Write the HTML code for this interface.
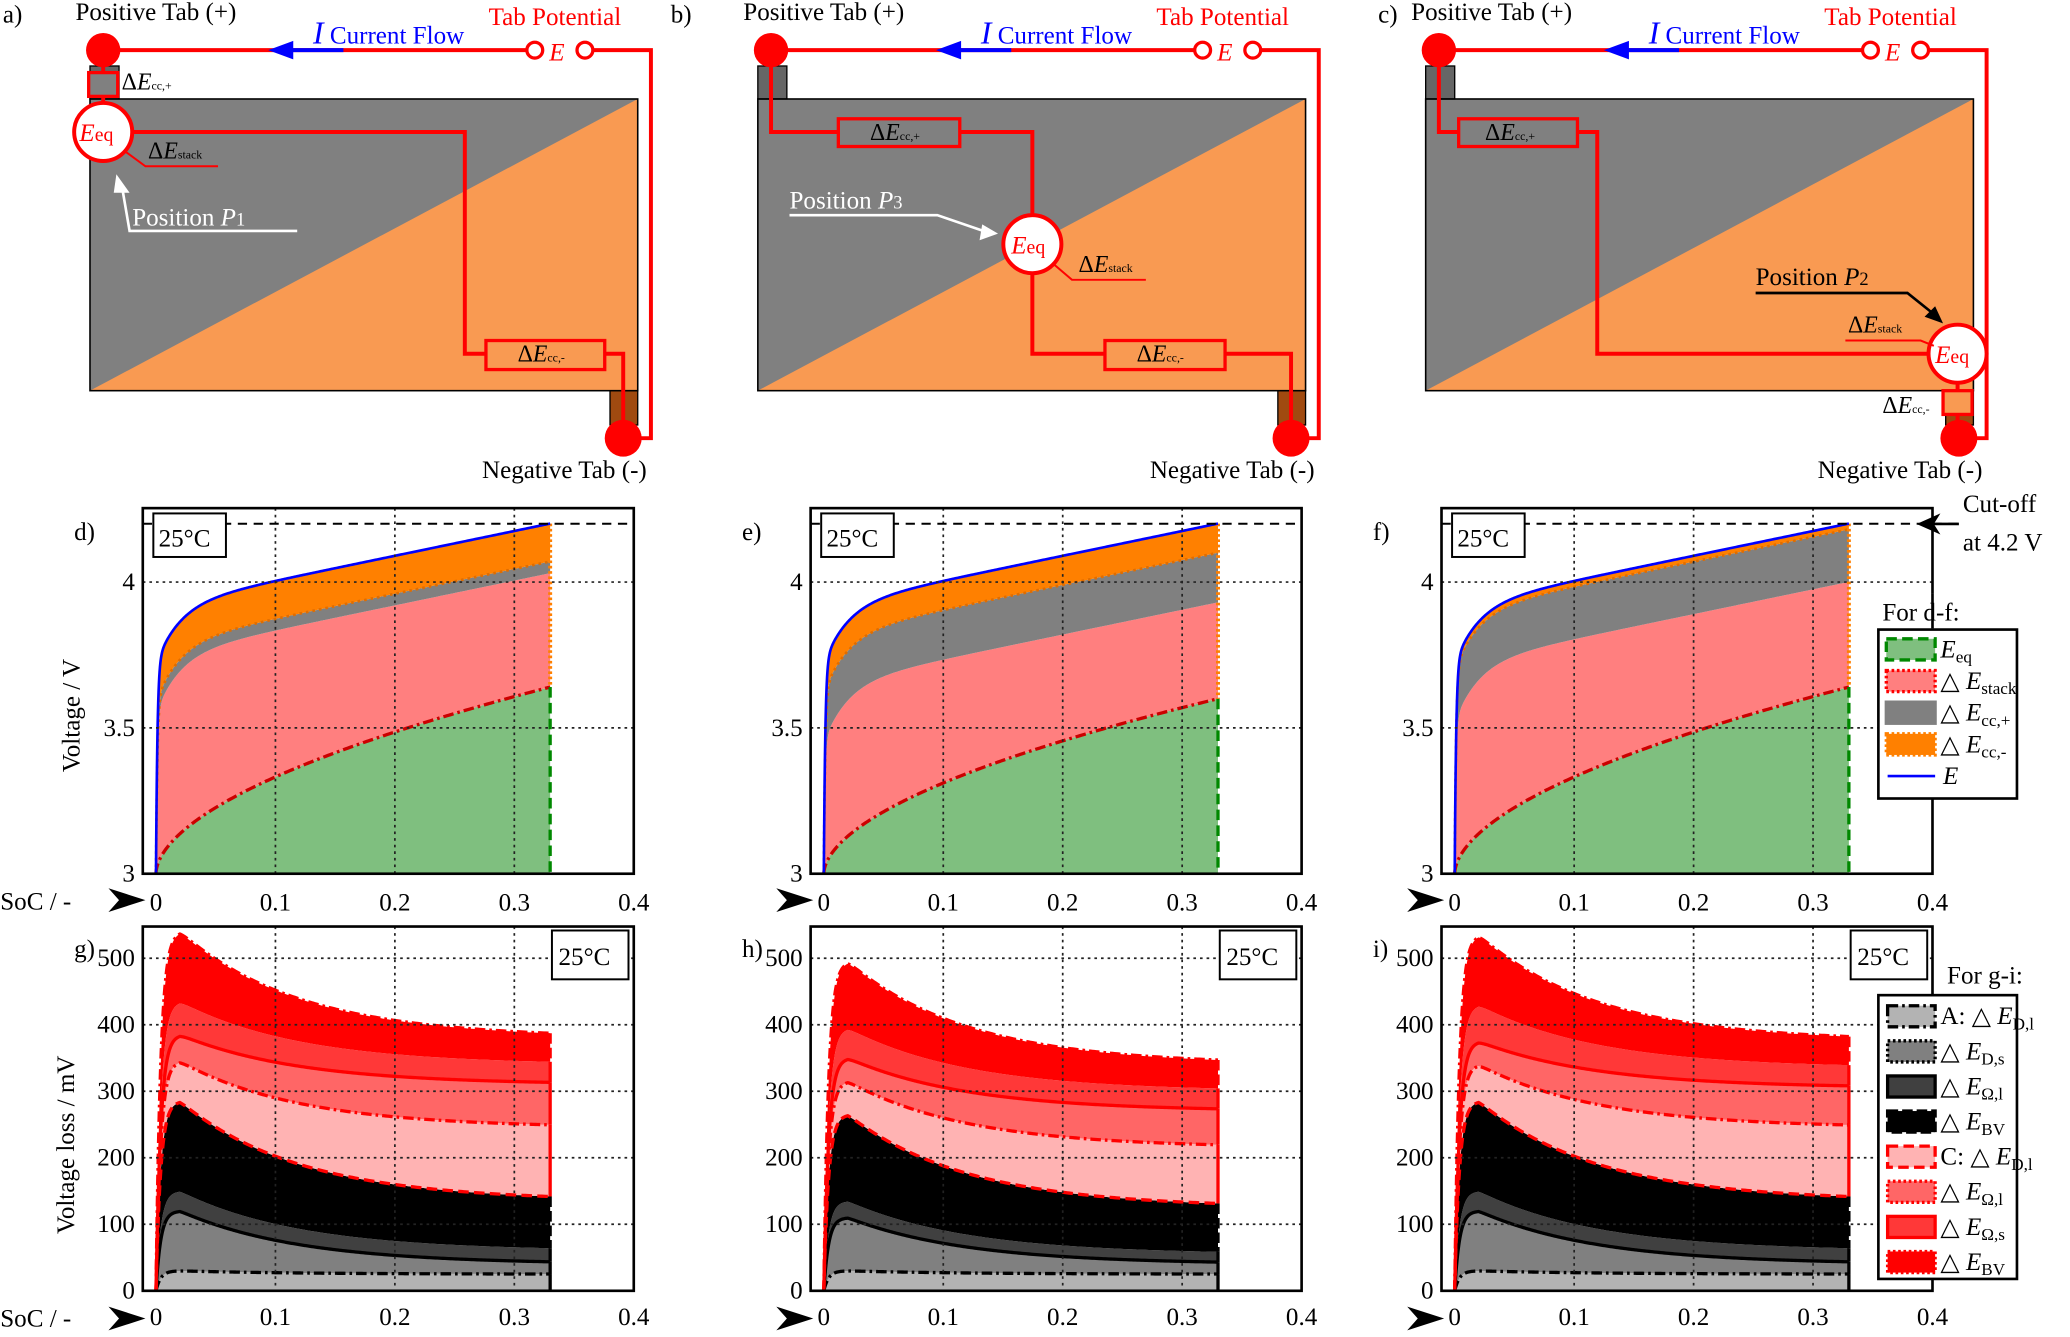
<!DOCTYPE html>
<html><head><meta charset="utf-8"><style>
html,body{margin:0;padding:0;background:#fff}
svg{display:block}
text{font-family:"Liberation Serif",serif;font-size:19px;fill:#000}
.t{font-size:18px}
</style></head><body>
<svg id="s" width="2070" height="1337" viewBox="0 0 1568 1013" xmlns="http://www.w3.org/2000/svg">
<g id="topG"></g>
<g id="mid"></g>
<g id="bot"></g>
<g id="txt">
<text x="2" y="17">a)</text><text x="57" y="15">Positive Tab (+)</text>
<text x="508" y="17">b)</text><text x="563" y="15">Positive Tab (+)</text>
<text x="1044" y="17">c)</text><text x="1069" y="15">Positive Tab (+)</text>
<text x="370" y="19" style="fill:#f00">Tab Potential</text>
<text x="876" y="19" style="fill:#f00">Tab Potential</text>
<text x="1382" y="19" style="fill:#f00">Tab Potential</text>
<text x="237" y="33" style="fill:#00f"><tspan font-style="italic" font-size="24">I</tspan> Current Flow</text>
<text x="743" y="33" style="fill:#00f"><tspan font-style="italic" font-size="24">I</tspan> Current Flow</text>
<text x="1249" y="33" style="fill:#00f"><tspan font-style="italic" font-size="24">I</tspan> Current Flow</text>
<text x="416" y="46" font-style="italic" font-size="22" style="fill:#f00">E</text>
<text x="922" y="46" font-style="italic" font-size="22" style="fill:#f00">E</text>
<text x="1428" y="46" font-style="italic" font-size="22" style="fill:#f00">E</text>
<text x="365" y="362">Negative Tab (-)</text>
<text x="871" y="362">Negative Tab (-)</text>
<text x="1377" y="362">Negative Tab (-)</text>
</g>
<g id="txt2"></g>
</svg>
<script>
(function(){
const NS="http://www.w3.org/2000/svg";
function el(p,tag,a,txt){const e=document.createElementNS(NS,tag);for(const k in a)e.setAttribute(k,a[k]);if(txt!==undefined)e.textContent=txt;p.appendChild(e);return e;}
const topG=document.getElementById('topG'),mid=document.getElementById('mid'),bot=document.getElementById('bot'),tx2=document.getElementById('txt2');
const R='#f00';
[0,506,1012].forEach((o,i)=>{
  const x0=68+o,x1=483+o;
  el(topG,'rect',{x:x0,y:75,width:x1-x0,height:221,fill:'#f99a52'});
  el(topG,'polygon',{points:`${x0},75 ${x1},75 ${x0},296`,fill:'#808080'});
  el(topG,'rect',{x:x0,y:50,width:22,height:25,fill:'#666',stroke:'#000','stroke-width':1});
  el(topG,'rect',{x:x1-21,y:296,width:21,height:26,fill:'#a04a10',stroke:'#000','stroke-width':1});
  el(topG,'rect',{x:x0,y:75,width:x1-x0,height:221,fill:'none',stroke:'#000','stroke-width':1.2});
  const w={fill:'none',stroke:R,'stroke-width':3};
  el(topG,'polyline',Object.assign({points:`${78+o},38 ${400+o},38`},w));
  el(topG,'polyline',Object.assign({points:`${448+o},38 ${493+o},38 ${493+o},332 ${472+o},332`},w));
  el(topG,'circle',{cx:405+o,cy:38,r:6,fill:'#fff',stroke:R,'stroke-width':2.5});
  el(topG,'circle',{cx:443+o,cy:38,r:6,fill:'#fff',stroke:R,'stroke-width':2.5});
  el(topG,'circle',{cx:78+o,cy:38,r:13,fill:R});
  el(topG,'circle',{cx:472+o,cy:332,r:14,fill:R});
  el(topG,'line',{x1:260+o,y1:38,x2:215+o,y2:38,stroke:'#00f','stroke-width':3});
  el(topG,'polygon',{points:`${203+o},38 ${222+o},31 ${222+o},45`,fill:'#00f'});
  if(i==0){
    el(topG,'polyline',Object.assign({points:`78,38 78,100 352,100 352,268 472,268 472,332`},w));
    el(topG,'rect',{x:67,y:55,width:22,height:18,fill:'#808080',stroke:R,'stroke-width':2.5});
    el(topG,'rect',{x:368,y:258,width:90,height:22,fill:'#f99a52',stroke:R,'stroke-width':2.5});
    el(topG,'circle',{cx:78,cy:100,r:22,fill:'#fff',stroke:R,'stroke-width':3});
    el(topG,'polyline',{points:'95,115 110,126 165,126',fill:'none',stroke:R,'stroke-width':1.5});
    el(topG,'polyline',{points:'225,175 98,175 92,140',fill:'none',stroke:'#fff','stroke-width':2});
    el(topG,'polygon',{points:'88,132 98,146 86,146',fill:'#fff'});
  }else if(i==1){
    el(topG,'polyline',Object.assign({points:`584,38 584,100 782,100 782,268 978,268 978,332`},w));
    el(topG,'rect',{x:635,y:90,width:92,height:21,fill:'#808080',stroke:R,'stroke-width':2.5});
    el(topG,'rect',{x:837,y:258,width:91,height:22,fill:'#f99a52',stroke:R,'stroke-width':2.5});
    el(topG,'circle',{cx:782,cy:185,r:22,fill:'#fff',stroke:R,'stroke-width':3});
    el(topG,'polyline',{points:'798,200 812,212 868,212',fill:'none',stroke:R,'stroke-width':1.5});
    el(topG,'polyline',{points:'598,163 710,163 745,175',fill:'none',stroke:'#fff','stroke-width':2});
    el(topG,'polygon',{points:'756,177 742,182 744,170',fill:'#fff'});
  }else{
    el(topG,'polyline',Object.assign({points:`1090,38 1090,100 1210,100 1210,268 1483,268 1483,332`},w));
    el(topG,'rect',{x:1105,y:90,width:90,height:21,fill:'#808080',stroke:R,'stroke-width':2.5});
    el(topG,'rect',{x:1472,y:296,width:22,height:18,fill:'#f99a52',stroke:R,'stroke-width':2.5});
    el(topG,'circle',{cx:1483,cy:268,r:22,fill:'#fff',stroke:R,'stroke-width':3});
    el(topG,'polyline',{points:'1398,258 1455,258 1465,262',fill:'none',stroke:R,'stroke-width':1.5});
    el(topG,'polyline',{points:'1330,222 1445,222 1465,238',fill:'none',stroke:'#000','stroke-width':2});
    el(topG,'polygon',{points:'1472,245 1458,240 1466,232',fill:'#000'});
  }
});
const DE='Δ<tspan font-style="italic">E</tspan>';
tx2.innerHTML=`
<text x="92" y="68" class="t">${DE}<tspan font-size="9">cc,+</tspan></text>
<text x="112" y="120" class="t">${DE}<tspan font-size="9">stack</tspan></text>
<text x="392" y="274" class="t">${DE}<tspan font-size="9">cc,-</tspan></text>
<text x="100" y="171" font-size="23" style="fill:#fff">Position <tspan font-style="italic">P</tspan><tspan font-size="14">1</tspan></text>
<text x="659" y="106" class="t">${DE}<tspan font-size="9">cc,+</tspan></text>
<text x="817" y="206" class="t">${DE}<tspan font-size="9">stack</tspan></text>
<text x="861" y="274" class="t">${DE}<tspan font-size="9">cc,-</tspan></text>
<text x="598" y="158" font-size="23" style="fill:#fff">Position <tspan font-style="italic">P</tspan><tspan font-size="14">3</tspan></text>
<text x="1125" y="106" class="t">${DE}<tspan font-size="9">cc,+</tspan></text>
<text x="1400" y="252" class="t">${DE}<tspan font-size="9">stack</tspan></text>
<text x="1426" y="313" class="t">${DE}<tspan font-size="9">cc,-</tspan></text>
<text x="1330" y="216" font-size="23">Position <tspan font-style="italic">P</tspan><tspan font-size="14">2</tspan></text>
<text x="60" y="107" font-style="italic" font-size="23" style="fill:#f00">E<tspan font-size="15" font-style="normal">eq</tspan></text>
<text x="766" y="192" font-style="italic" font-size="23" style="fill:#f00">E<tspan font-size="15" font-style="normal">eq</tspan></text>
<text x="1466" y="275" font-style="italic" font-size="23" style="fill:#f00">E<tspan font-size="15" font-style="normal">eq</tspan></text>
<text x="56" y="409">d)</text><text x="562" y="409">e)</text><text x="1040" y="409">f)</text>
<text x="1487" y="388">Cut-off</text><text x="1487" y="417">at 4.2 V</text>
<text x="0" y="689">SoC / -</text><text x="0" y="1005">SoC / -</text>
<text x="56" y="725">g)</text><text x="562" y="725">h)</text><text x="1040" y="725">i)</text>
<text transform="translate(60,585) rotate(-90)" font-size="21">Voltage / V</text>
<text transform="translate(56,935) rotate(-90)" font-size="21">Voltage loss / mV</text>`;
const S=[]; for(let k=0;k<=300;k++){S.push(0.33*Math.pow(k/300,1.6));}
function Ef(s){return 3+0.72*(1-Math.exp(-s/0.0012))+0.2*(1-Math.exp(-s/0.02))+0.85*s;}
function Eq(s,end){return 3+(end-3)*Math.pow(s/0.33,0.55);}
function ramp(s){return 1-Math.exp(-s/0.0015);}
const midP=[{x0:118,o:0.13,g:0.04,eq:3.64},{x0:624,o:0.1,g:0.17,eq:3.6},{x0:1102,o:0.02,g:0.18,eq:3.64}];
function area(par,X,Y1,Y0,fill){let d='M'+S.map(s=>X(s)+','+Y1(s)).join('L');d+='L'+S.slice().reverse().map(s=>X(s)+','+Y0(s)).join('L')+'Z';el(par,'path',{d,fill});}
function line(par,X,Y,a){el(par,'path',Object.assign({d:'M'+S.map(s=>X(s)+','+Y(s)).join('L'),fill:'none'},a));}
midP.forEach((p,i)=>{
  const X=s=>(p.x0+s*905).toFixed(2), Y=v=>(662-(v-3)*221).toFixed(2);
  const tp=s=>Ef(s), gt=s=>Ef(s)-p.o*ramp(s), pt=s=>Ef(s)-(p.o+p.g)*ramp(s), eq=s=>Eq(s,p.eq);
  const g=el(mid,'g',{});
  el(g,'rect',{x:p.x0-10,y:385,width:372,height:277,fill:'#fff'});
  area(g,X,s=>Y(eq(s)),s=>Y(3),'#7fbf7f');
  area(g,X,s=>Y(pt(s)),s=>Y(eq(s)),'#ff7f7f');
  area(g,X,s=>Y(gt(s)),s=>Y(pt(s)),'#808080');
  area(g,X,s=>Y(tp(s)),s=>Y(gt(s)),'#ff8000');
  line(g,X,s=>Y(gt(s)),{stroke:'#e06d00','stroke-width':2,'stroke-dasharray':'2,3'});
  line(g,X,s=>Y(eq(s)),{stroke:'#c00','stroke-width':2.5,'stroke-dasharray':'8,3,2,3'});
  el(g,'line',{x1:X(0.33),y1:Y(eq(0.33)),x2:X(0.33),y2:Y(3),stroke:'#080','stroke-width':2.5,'stroke-dasharray':'8,4'});
  el(g,'line',{x1:X(0.33),y1:Y(tp(0.33)),x2:X(0.33),y2:Y(eq(0.33)),stroke:'#ff8000','stroke-width':3,'stroke-dasharray':'2,2'});
  line(g,X,s=>Y(tp(s)),{stroke:'#00f','stroke-width':2});
  for(let k=1;k<4;k++){const x=p.x0+k*90.5;el(g,'line',{x1:x,y1:385,x2:x,y2:662,stroke:'#222','stroke-width':1.3,'stroke-dasharray':'2,3'});}
  [3.5,4].forEach(v=>el(g,'line',{x1:p.x0-10,y1:Y(v),x2:p.x0+362,y2:Y(v),stroke:'#222','stroke-width':1.3,'stroke-dasharray':'2,3'}));
  el(g,'line',{x1:p.x0-10,y1:Y(4.2),x2:i==2?p.x0+385:p.x0+362,y2:Y(4.2),stroke:'#000','stroke-width':1.5,'stroke-dasharray':'7,5'});
  el(g,'rect',{x:p.x0-10,y:385,width:372,height:277,fill:'none',stroke:'#000','stroke-width':2});
  [['3',3],['3.5',3.5],['4',4]].forEach(([t,v])=>el(g,'text',{x:p.x0-16,y:+Y(v)+6,'text-anchor':'end','font-size':17},t));
  ['0','0.1','0.2','0.3','0.4'].forEach((t,k)=>el(g,'text',{x:p.x0+k*90.5,y:690,'text-anchor':'middle','font-size':17},t));
  el(g,'rect',{x:p.x0-2,y:389,width:55,height:33,fill:'#fff',stroke:'#000','stroke-width':1.5});
  el(g,'text',{x:p.x0+2,y:414,'font-size':20},'25°C');
  el(g,'polygon',{points:`${p.x0-8},682 ${p.x0-36},673 ${p.x0-28},682 ${p.x0-36},691`,fill:'#000'});
});
el(mid,'polygon',{points:'1452,397 1470,389 1465,397 1470,405',fill:'#000'});
el(mid,'line',{x1:1465,y1:397,x2:1484,y2:397,stroke:'#000','stroke-width':2});
(function(){const g=el(mid,'g',{});
 el(g,'rect',{x:1424,y:450,width:100,height:26,fill:'#fff'});
 el(g,'line',{x1:1464,y1:450,x2:1464,y2:476,stroke:'#000','stroke-width':2});
 el(g,'text',{x:1426,y:470},'For d-f:');
 el(g,'rect',{x:1423,y:477,width:105,height:128,fill:'#fff',stroke:'#000','stroke-width':2});
 const it=[['#7fbf7f','#080','8,4','','eq'],['#ff7f7f','#f00','2,2','△ ','stack'],['#808080','#808080','','△ ','cc,+'],['#ff8000','#ff8000','2,2','△ ','cc,-']];
 it.forEach((t,k)=>{const y=483+k*24;el(g,'rect',{x:1429,y:y+1,width:37,height:16,fill:t[0],stroke:t[1],'stroke-width':2.5,'stroke-dasharray':t[2]});
  const tx=el(g,'text',{x:1470,y:y+15,'font-size':18});tx.innerHTML=`${t[3]}<tspan font-style="italic">E</tspan><tspan font-size="13" dy="4">${t[4]}</tspan>`;});
 el(g,'line',{x1:1430,y1:588,x2:1466,y2:588,stroke:'#00f','stroke-width':2});
 el(g,'text',{x:1472,y:594,'font-size':18,'font-style':'italic'},'E');
})();
function sh(s,pk,end){const r=1-Math.exp(-s/0.004);return r*(end+(pk-end)*Math.exp(-Math.max(0,s-0.02)/0.1));}
const botP=[{x0:118,L:[[30,25],[120,40],[150,60],[285,135],[345,245],[385,310],[435,340],[540,380]]},
 {x0:624,L:[[30,25],[110,40],[135,55],[265,125],[315,215],[350,270],[395,300],[495,340]]},
 {x0:1102,L:[[30,25],[120,40],[150,60],[285,135],[340,245],[375,305],[430,335],[535,375]]}];
const fills=['#b3b3b3','#808080','#404040','#000','#ffb3b3','#ff6666','#ff3838','#ff0000'];
botP.forEach(p=>{
  const X=s=>(p.x0+s*905).toFixed(2), Y=v=>(978-v*0.504).toFixed(2);
  const g=el(bot,'g',{});
  el(g,'rect',{x:p.x0-10,y:702,width:372,height:276,fill:'#fff'});
  p.L.forEach((l,k)=>{const lo=k?p.L[k-1]:null;
    area(g,X,s=>Y(sh(s,l[0],l[1])),s=>Y(lo?sh(s,lo[0],lo[1]):0),fills[k]);
    el(g,'line',{x1:X(0.33),y1:Y(sh(0.33,l[0],l[1])),x2:X(0.33),y2:Y(lo?sh(0.33,lo[0],lo[1]):0),stroke:k<4?'#000':'#f00','stroke-width':2.5,'stroke-dasharray':k==7||k==3?'8,3':''});
  });
  const st=[['#000','8,3,2,3'],['#000',''],['#333','2,2'],['#f00','8,4'],['#f00','8,3,2,3'],['#f00',''],['#ff2020','2,2'],['#f00','8,3,2,3']];
  p.L.forEach((l,k)=>{ if(k==2||k==6) return; line(g,X,s=>Y(sh(s,l[0],l[1])),{stroke:st[k][0],'stroke-width':2.5,'stroke-dasharray':st[k][1]});});
  for(let k=1;k<4;k++){const x=p.x0+k*90.5;el(g,'line',{x1:x,y1:702,x2:x,y2:978,stroke:'#222','stroke-width':1.3,'stroke-dasharray':'2,3'});}
  [100,200,300,400,500].forEach(v=>el(g,'line',{x1:p.x0-10,y1:Y(v),x2:p.x0+362,y2:Y(v),stroke:'#222','stroke-width':1.3,'stroke-dasharray':'2,3'}));
  el(g,'rect',{x:p.x0-10,y:702,width:372,height:276,fill:'none',stroke:'#000','stroke-width':2});
  [0,100,200,300,400,500].forEach(v=>el(g,'text',{x:p.x0-16,y:+Y(v)+6,'text-anchor':'end','font-size':17},''+v));
  ['0','0.1','0.2','0.3','0.4'].forEach((t,k)=>el(g,'text',{x:p.x0+k*90.5,y:1004,'text-anchor':'middle','font-size':17},t));
  el(g,'rect',{x:p.x0+300,y:705,width:58,height:37,fill:'#fff',stroke:'#000','stroke-width':1.5});
  el(g,'text',{x:p.x0+305,y:731,'font-size':20},'25°C');
  el(g,'polygon',{points:`${p.x0-8},999 ${p.x0-36},990 ${p.x0-28},999 ${p.x0-36},1008`,fill:'#000'});
});
(function(){const g=el(bot,'g',{});
 el(g,'text',{x:1475,y:745},'For g-i:');
 el(g,'rect',{x:1423,y:754,width:105,height:215,fill:'#fff',stroke:'#000','stroke-width':2});
 const it=[['#b3b3b3','#000','8,3,2,3','A: △ ','D,l'],['#808080','#000','2,2','△ ','D,s'],['#404040','#000','','△ ','Ω,l'],['#000','#000','8,3','△ ','BV'],
  ['#ffb3b3','#f00','8,4','C: △ ','D,l'],['#ff6666','#f00','2,2','△ ','Ω,l'],['#ff3838','#f00','','△ ','Ω,s'],['#ff0000','#f00','2,2','△ ','BV']];
 it.forEach((t,k)=>{const y=761+k*26.6;el(g,'rect',{x:1430,y:y+1,width:36,height:16,fill:t[0],stroke:t[1],'stroke-width':2.5,'stroke-dasharray':t[2]});
  const tx=el(g,'text',{x:1470,y:y+15,'font-size':18});tx.innerHTML=`${t[3]}<tspan font-style="italic">E</tspan><tspan font-size="13" dy="4">${t[4]}</tspan>`;});
})();
})();
</script>
</body></html>
